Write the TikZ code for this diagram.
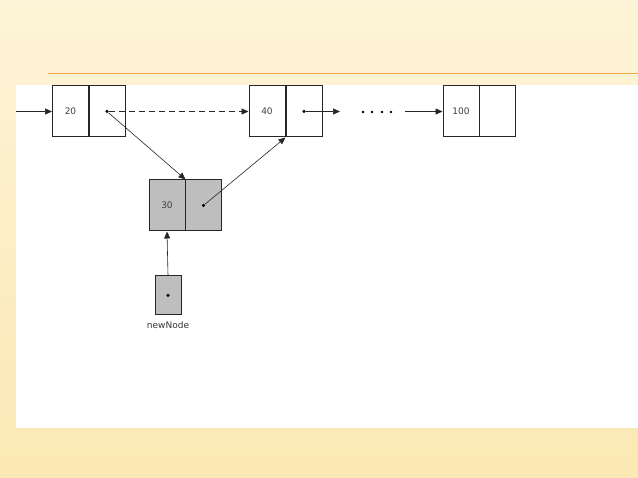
\documentclass[tikz,border=0pt]{standalone}
\usepackage{fontspec}
\setmainfont{DejaVu Sans}
\usetikzlibrary{arrows.meta}
\definecolor{bgc}{RGB}{251,232,180}
\definecolor{bgl}{RGB}{253,244,215}
\definecolor{rule}{RGB}{235,170,70}
\definecolor{cellg}{RGB}{190,190,190}
\begin{document}
\begin{tikzpicture}[x=1pt,y=-1pt,
  cell/.style={draw=black!85,line width=1pt,minimum width=36pt,minimum height=51pt,inner sep=0pt,font=\small,text=black!75},
  gcell/.style={cell,fill=cellg},
  ptr/.style={-{Triangle[length=7pt,width=6pt]},line width=0.6pt,black!85},
  dot/.style={circle,fill=black,inner sep=0pt,minimum size=3.5pt}]
\useasboundingbox (0,0) rectangle (638,478);
\shade[top color=bgl,bottom color=bgc] (0,0) rectangle (638,478);
\draw[rule,line width=0.8pt] (48,73) -- (638,73);
\fill[white] (16,85) rectangle (638,428);
% list nodes
\node[cell] (a1) at (70.5,111.5) {20};
\node[cell] (a2) at (107,111.5) {};
\node[cell] (b1) at (267,111.5) {40};
\node[cell] (b2) at (304,111.5) {};
\node[cell] (c1) at (461,111.5) {100};
\node[cell] (c2) at (497,111.5) {};
\node[gcell] (n1) at (167,205.5) {30};
\node[gcell] (n2) at (203.5,205.5) {};
\node[draw=black!85,line width=1pt,fill=cellg,minimum width=26pt,minimum height=39pt,inner sep=0pt] (nn) at (168,295.5) {};
\node[font=\small,text=black!80,anchor=north] (lbl) at (168,318) {newNode};
% dots
\node[dot] (d1) at (a2.center) {};
\node[dot] (d2) at (b2.center) {};
\node[dot] (d3) at (n2.center) {};
\node[dot] (d4) at (nn.center) {};
\coordinate (in) at (16,111.5);
\coordinate (out) at (340,111.5);
\coordinate (dstart) at (405,111.5);
% arrows
\draw[ptr] (in) -- (a1.west);
\draw[ptr,dashed,dash pattern=on 6pt off 4pt] (d1) -- (b1.west);
\draw[ptr] (d1) -- (n1.north east);
\draw[ptr] (d3) -- (b1.south east);
\draw[ptr] (d2) -- (out);
\draw[ptr] (dstart) -- (c1.west);
\draw[ptr] (nn.north) -- (n1.south);
\foreach \x in {363,372,382,391} \fill (\x,112) circle (1.4pt);
\end{tikzpicture}
\end{document}
